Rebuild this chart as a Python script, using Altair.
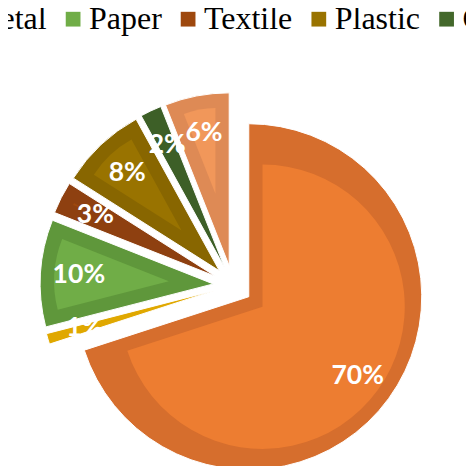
import math
import altair as alt
import pandas as pd

categories = ["Organic", "Metal", "Paper", "Textile", "Plastic", "Glass", "Others"]
values = [70, 1, 10, 3, 8, 2, 6]
base_colors = ["#ED7D31", "#FFC000", "#70AD47", "#9E480E", "#997300", "#43682B", "#F1975A"]
dark_colors = ["#D66E2D", "#E0A800", "#5F973B", "#8E4010", "#886600", "#3D5F27", "#DE8A55"]

# layout constants (pixels)
CX, CY = 228.8, 278.0   # pie centre
R = 176                 # radius
D = 20                  # explosion distance
T = 14                  # bevel band width
LR = 137                # label distance from slice apex

df = pd.DataFrame({
    "idx": list(range(len(categories))),
    "cat": categories,
    "v": values,
    "dark": dark_colors,
})

base = alt.Chart(df).transform_joinaggregate(
    total="sum(v)"
).transform_window(
    cum="sum(v)", sort=[alt.SortField("idx")], frame=[None, 0]
).transform_calculate(
    a0="2*PI*(datum.cum - datum.v)/datum.total",
    a1="2*PI*datum.cum/datum.total",
).transform_calculate(
    mid="(datum.a0 + datum.a1)/2",
    h="(datum.a1 - datum.a0)/2",
).transform_calculate(
    cx=f"{CX} + {D}*sin(datum.mid)",
    cy=f"{CY} - {D}*cos(datum.mid)",
    s=f"{T}/sin(datum.h)",
).transform_calculate(
    ix="datum.cx + datum.s*sin(datum.mid)",
    iy="datum.cy - datum.s*cos(datum.mid)",
    ir=f"max(0, {R} - {T} - datum.s)",
    lbl="datum.v + '%'",
)

outer = base.mark_arc(radius=R, stroke="white", strokeWidth=1).encode(
    x=alt.X("cx:Q", scale=None, axis=None),
    y=alt.Y("cy:Q", scale=None, axis=None),
    theta=alt.Theta("a0:Q", scale=None, stack=None),
    theta2=alt.Theta2("a1:Q"),
    fill=alt.Fill("dark:N", scale=None, legend=None),
)

inner = base.mark_arc().encode(
    x=alt.X("ix:Q", scale=None, axis=None),
    y=alt.Y("iy:Q", scale=None, axis=None),
    theta=alt.Theta("a0:Q", scale=None, stack=None),
    theta2=alt.Theta2("a1:Q"),
    radius=alt.Radius("ir:Q", scale=None),
    color=alt.Color(
        "cat:N",
        scale=alt.Scale(domain=categories, range=base_colors),
        sort=categories,
        legend=alt.Legend(
            title=None,
            orient="none",
            legendX=-216,
            legendY=-9,
            direction="horizontal",
            columns=len(categories),
            symbolType="square",
            symbolSize=225,
            symbolStrokeWidth=0,
            labelFont="Liberation Serif",
            labelFontSize=32.5,
            labelColor="black",
            labelOffset=0,
            labelLimit=0,
            columnPadding=10,
            padding=0,
        ),
    ),
)

labels = base.mark_text(
    font="Lato", fontWeight="bold", fontSize=27, color="white",
    align="center", baseline="middle",
).encode(
    x=alt.X("cx:Q", scale=None, axis=None),
    y=alt.Y("cy:Q", scale=None, axis=None),
    theta=alt.Theta("mid:Q", scale=None, stack=None),
    radius=alt.value(LR),
    text="lbl:N",
)

chart = alt.layer(outer, inner, labels).properties(
    width=466,
    height=458,
    autosize=alt.AutoSizeParams(type="none"),
    padding=0,
).configure_view(stroke=None)

chart.save("out.html", embed_options={"renderer": "svg", "actions": False})
